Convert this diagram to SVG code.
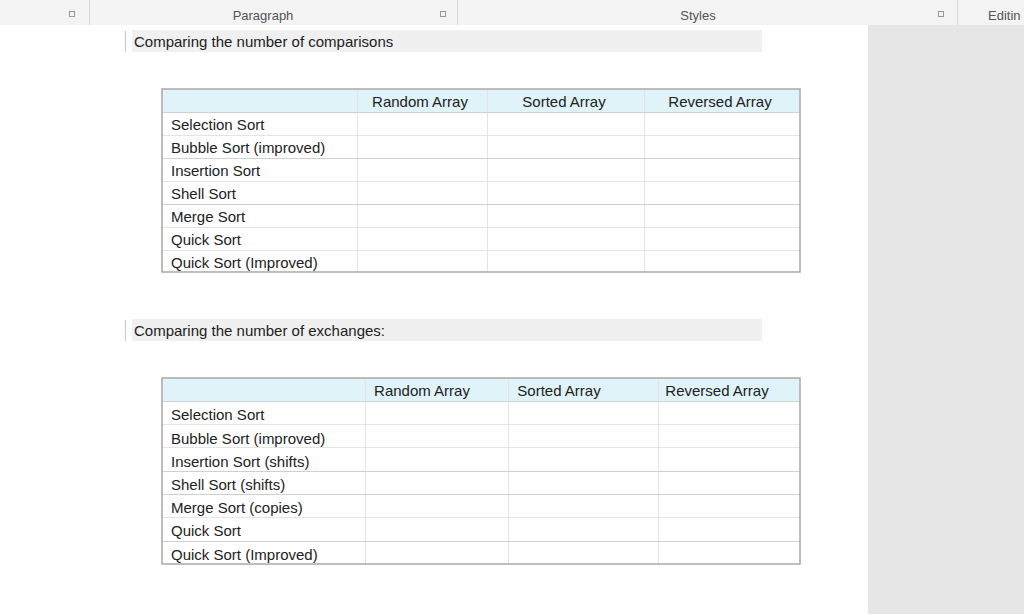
<svg xmlns="http://www.w3.org/2000/svg" width="1024" height="614" viewBox="0 0 1024 614">
<style>
text{font-family:"Liberation Sans",Arial,sans-serif;fill:#222;font-size:15px}
.rib{font-size:13px;fill:#555}
.h{font-size:15px}
.hd{fill:#dff3f8}
.ln{stroke:#e4e4e4;stroke-width:1}
.ln2{stroke:#d0d0d0;stroke-width:1}
.bd{fill:none;stroke:#a8a8a8;stroke-width:1.5}
.c{text-anchor:middle}
</style>
<rect width="1024" height="614" fill="#fff"/>
<rect x="0" y="0" width="1024" height="25" fill="#f3f3f3"/>
<g stroke="#dadada"><line x1="89.5" y1="0" x2="89.5" y2="25"/><line x1="457.5" y1="0" x2="457.5" y2="25"/><line x1="957.5" y1="0" x2="957.5" y2="25"/></g>
<text class="rib c" x="263" y="20">Paragraph</text>
<text class="rib c" x="698" y="20">Styles</text>
<text class="rib" x="988" y="20">Editin</text>
<g fill="none" stroke="#999" stroke-width="1"><rect x="69.5" y="11.5" width="5" height="5"/><rect x="440.5" y="11.5" width="5" height="5"/><rect x="938.5" y="11.5" width="5" height="5"/></g>
<rect x="868" y="25" width="156" height="589" fill="#e6e6e6"/>

<g id="heading1"><line x1="125.5" y1="31" x2="125.5" y2="52" stroke="#c8c8c8"/><rect x="132" y="30" width="630" height="22" fill="#f0f0f0"/><text x="134" y="47">Comparing the number of comparisons</text></g>
<g id="heading2"><line x1="125.5" y1="320" x2="125.5" y2="341" stroke="#c8c8c8"/><rect x="132" y="319" width="630" height="22" fill="#f0f0f0"/><text x="134" y="336">Comparing the number of exchanges:</text></g>

<g id="table1">
<rect class="hd" x="162" y="89" width="638" height="23"/>
<g class="ln"><line x1="162" y1="135.5" x2="800" y2="135.5"/><line x1="162" y1="181.5" x2="800" y2="181.5"/><line x1="162" y1="227.5" x2="800" y2="227.5"/><line x1="162" y1="250.5" x2="800" y2="250.5"/>
<line x1="357.5" y1="89" x2="357.5" y2="272"/><line x1="487.5" y1="89" x2="487.5" y2="272"/><line x1="644.5" y1="89" x2="644.5" y2="272"/></g>
<g class="ln2"><line x1="162" y1="112.5" x2="800" y2="112.5"/><line x1="162" y1="158.5" x2="800" y2="158.5"/><line x1="162" y1="204.5" x2="800" y2="204.5"/></g>
<rect class="bd" x="162" y="89" width="638" height="183"/>
<text class="c" x="420" y="107">Random Array</text><text class="c" x="564" y="107">Sorted Array</text><text class="c" x="720" y="107">Reversed Array</text>
<text x="171" y="130">Selection Sort</text><text x="171" y="153">Bubble Sort (improved)</text><text x="171" y="176">Insertion Sort</text><text x="171" y="199">Shell Sort</text><text x="171" y="222">Merge Sort</text><text x="171" y="245">Quick Sort</text><text x="171" y="268">Quick Sort (Improved)</text>
</g>

<g id="table2">
<rect class="hd" x="162" y="378" width="638" height="23"/>
<g class="ln"><line x1="162" y1="424.5" x2="800" y2="424.5"/><line x1="162" y1="447.5" x2="800" y2="447.5"/><line x1="162" y1="517.5" x2="800" y2="517.5"/>
<line x1="365.5" y1="378" x2="365.5" y2="564"/><line x1="508.5" y1="378" x2="508.5" y2="564"/><line x1="658.5" y1="378" x2="658.5" y2="564"/></g>
<g class="ln2"><line x1="162" y1="401.5" x2="800" y2="401.5"/><line x1="162" y1="471.5" x2="800" y2="471.5"/><line x1="162" y1="494.5" x2="800" y2="494.5"/><line x1="162" y1="541.5" x2="800" y2="541.5"/></g>
<rect class="bd" x="162" y="378" width="638" height="186"/>
<text class="c" x="422" y="396">Random Array</text><text class="c" x="559" y="396">Sorted Array</text><text class="c" x="717" y="396">Reversed Array</text>
<text x="171" y="420">Selection Sort</text><text x="171" y="444">Bubble Sort (improved)</text><text x="171" y="467">Insertion Sort (shifts)</text><text x="171" y="490">Shell Sort (shifts)</text><text x="171" y="513">Merge Sort (copies)</text><text x="171" y="536">Quick Sort</text><text x="171" y="560">Quick Sort (Improved)</text>
</g>
</svg>
